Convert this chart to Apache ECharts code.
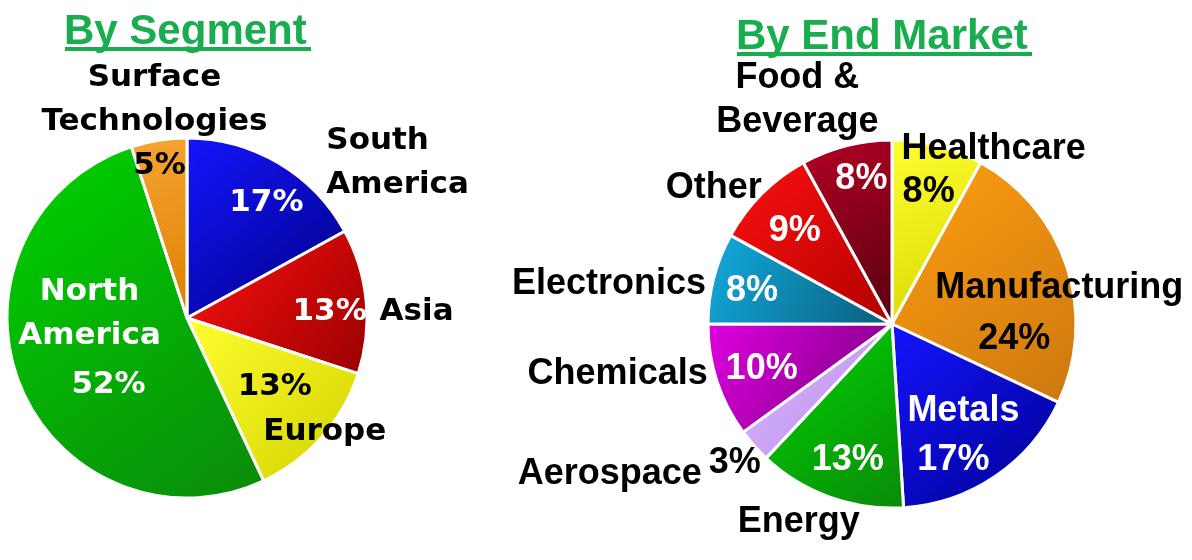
<!DOCTYPE html>
<html><head><meta charset="utf-8">
<script src="https://cdn.jsdelivr.net/npm/echarts@6/dist/echarts.min.js"></script>
<style>html,body{margin:0;padding:0;background:#fff}#c{width:1192px;height:560px}</style>
</head><body><div id="c"></div><script>
// ---- data ----
const segmentNames = ['South America', 'Asia', 'Europe', 'North America', 'Surface Technologies'];
const segmentShares = [17, 13, 13, 52, 5];
const marketNames = ['Healthcare', 'Manufacturing', 'Metals', 'Energy', 'Aerospace', 'Chemicals', 'Electronics', 'Other', 'Food & Beverage'];
const marketShares = [8, 24, 17, 13, 3, 10, 8, 9, 8];
const titles = ['By Segment', 'By End Market'];

// ---- display text (line breaks) ----
const displayText = {
  'South America': 'South\nAmerica',
  'North America': 'North\nAmerica',
  'Surface Technologies': 'Surface\nTechnologies',
  'Food & Beverage': 'Food &\nBeverage'
};

// ---- styles ----
const segmentColors = {
  'South America': ['#1414ff', '#000082'],
  'Asia': ['#ff1010', '#9a0000'],
  'Europe': ['#ffff30', '#d2d200'],
  'North America': ['#00d400', '#0a8a0a'],
  'Surface Technologies': ['#f7a535', '#dc7f00']
};
const marketColors = {
  'Healthcare': ['#ffff30', '#d6d600'],
  'Manufacturing': ['#ff9e10', '#cc7810'],
  'Metals': ['#1414ff', '#000090'],
  'Energy': ['#00d400', '#0a8a0a'],
  'Aerospace': ['#dcb6ff', '#b890ea'],
  'Chemicals': ['#e000e0', '#74007a'],
  'Electronics': ['#12acdf', '#0a5c7c'],
  'Other': ['#ff1010', '#b00000'],
  'Food & Beverage': ['#b40024', '#560010']
};
const blackPct = ['Europe', 'Surface Technologies', 'Healthcare', 'Manufacturing', 'Aerospace'];
const whiteName = ['North America', 'Metals'];
const leftAligned = {'South America': true};

// label nudges relative to the library's inside anchor
const nameNudge = {
  'South America': [165, -75], 'Asia': [137, 3], 'Europe': [68, 52], 'North America': [-11, -38], 'Surface Technologies': [-18, -126],
  'Healthcare': [78, -83], 'Manufacturing': [77, -7], 'Metals': [18, 9], 'Energy': [-61, 109], 'Aerospace': [-211, 87],
  'Chemicals': [-184, 21], 'Electronics': [-191, -16], 'Other': [-111, -69], 'Food & Beverage': [-71, -132]
};
const pctNudge = {
  'South America': [32, -35], 'Asia': [50, 3], 'Europe': [18, 7], 'North America': [8, 33], 'Surface Technologies': [-13, -60],
  'Healthcare': [13, -40], 'Manufacturing': [32, 44], 'Metals': [8, 58], 'Energy': [-12, 47], 'Aerospace': [-86, 76],
  'Chemicals': [-40, 16], 'Electronics': [-48, -9], 'Other': [-30, -26], 'Food & Beverage': [-7, -53]
};

function grad(c) {
  return { type: 'linear', x: 0, y: 0, x2: 1, y2: 1, colorStops: [{ offset: 0, color: c[0] }, { offset: 1, color: c[1] }] };
}

function buildPie(names, values, colors, center, radius, font, size, blockW) {
  const slices = names.map((n, i) => ({
    name: n, value: values[i],
    itemStyle: { color: grad(colors[n]) },
    label: { color: blackPct.includes(n) ? '#000000' : '#ffffff' }
  }));
  const ghost = names.map((n, i) => ({
    name: n, value: values[i],
    itemStyle: { color: 'rgba(0,0,0,0)', borderWidth: 0 },
    label: { color: whiteName.includes(n) ? '#ffffff' : '#000000' }
  }));
  const base = {
    type: 'pie', center: center, radius: radius, startAngle: 90, clockwise: true,
    avoidLabelOverlap: false, animation: false, silent: true,
    labelLine: { show: false }, emphasis: { disabled: true }
  };
  const pctSeries = Object.assign({}, base, {
    data: slices,
    itemStyle: { borderColor: '#ffffff', borderWidth: 3 },
    label: {
      show: true, position: 'inside',
      formatter: p => p.value + '%',
      fontFamily: font, fontWeight: 'bold', fontSize: size,
      color: '#ffffff', textBorderWidth: 0
    },
    labelLayout: p => {
      const n = names[p.dataIndex];
      return { dx: pctNudge[n][0], dy: pctNudge[n][1] };
    }
  });
  const nameSeries = Object.assign({}, base, {
    data: ghost,
    label: {
      show: true, position: 'inside',
      formatter: p => {
        const t = displayText[p.name] || p.name;
        if (leftAligned[p.name]) return t.split('\n').map(s => '{l|' + s + '}').join('\n');
        return t;
      },
      fontFamily: font, fontWeight: 'bold', fontSize: size, lineHeight: 44,
      textBorderWidth: 0,
      rich: { l: { width: blockW, align: 'left', fontFamily: font, fontWeight: 'bold', fontSize: size, lineHeight: 44, color: '#000000' } }
    },
    labelLayout: p => {
      const n = names[p.dataIndex];
      return { dx: nameNudge[n][0], dy: nameNudge[n][1] };
    }
  });
  return [pctSeries, nameSeries];
}

const chart = echarts.init(document.getElementById('c'), null, { renderer: 'canvas' });
const titleStyle = { color: '#1aad4f', fontFamily: 'Liberation Sans, Arial, sans-serif', fontWeight: 'bold', fontSize: 42 };
chart.setOption({
  backgroundColor: '#ffffff',
  animation: false,
  title: [
    { text: titles[0], left: 64, top: 11, padding: 0, textStyle: titleStyle },
    { text: titles[1], left: 736, top: 16, padding: 0, textStyle: titleStyle }
  ],
  graphic: [
    { type: 'rect', shape: { x: 65, y: 47, width: 246, height: 4 }, style: { fill: '#1aad4f' } },
    { type: 'rect', shape: { x: 737, y: 52, width: 295, height: 4 }, style: { fill: '#1aad4f' } }
  ],
  series: [].concat(
    buildPie(segmentNames, segmentShares, segmentColors, [187, 318], 180, 'DejaVu Sans', 31, 146),
    buildPie(marketNames, marketShares, marketColors, [892, 324], 184, 'Liberation Sans', 36, 200)
  )
});
</script></body></html>
